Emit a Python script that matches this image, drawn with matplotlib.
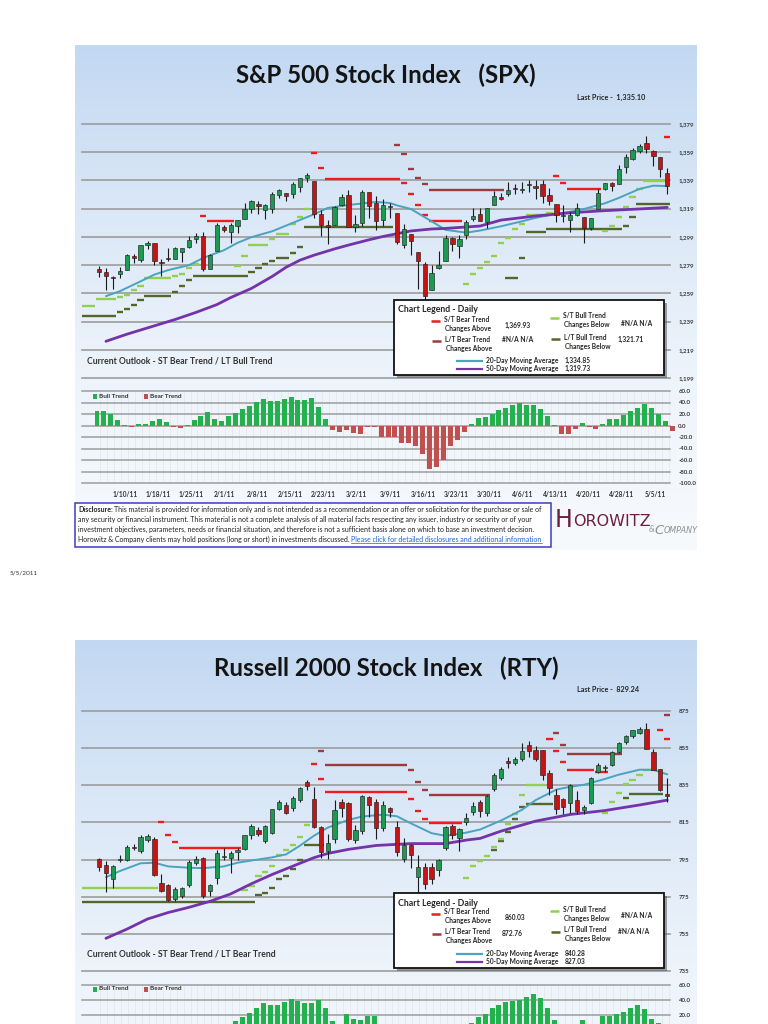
import numpy as np
import matplotlib
matplotlib.use("Agg")
import matplotlib.pyplot as plt
from matplotlib.patches import Rectangle
from matplotlib.colors import LinearSegmentedColormap
from matplotlib import font_manager

plt.rcParams['font.family'] = ['Lato', 'DejaVu Sans']

# ---------------- data: S&P 500 (Jan 6 - May 5, 2011) ----------------
spx_open = [1276.3, 1274.4, 1270.8, 1272.6, 1275.7, 1285.8, 1282.9, 1293.2, 1294.5, 1280.9,
            1283.6, 1283.3, 1288.2, 1291.9, 1297.5, 1299.6, 1276.5, 1289.1, 1305.9, 1302.8,
            1307.0, 1311.9, 1318.8, 1322.5, 1318.1, 1318.7, 1328.7, 1330.4, 1329.5, 1334.4,
            1340.4, 1338.9, 1315.4, 1307.1, 1307.3, 1321.6, 1328.6, 1305.9, 1308.5, 1330.7,
            1322.7, 1311.1, 1319.9, 1315.7, 1293.4, 1301.2, 1288.5, 1279.5, 1261.6, 1276.7,
            1281.7, 1298.3, 1292.2, 1300.6, 1311.8, 1315.5, 1309.4, 1321.9, 1327.4, 1329.5,
            1333.6, 1332.0, 1335.9, 1334.8, 1336.2, 1329.0, 1322.0, 1314.0, 1311.1, 1314.5,
            1313.4, 1305.6, 1319.1, 1333.2, 1337.1, 1336.8, 1348.4, 1353.9, 1360.1, 1365.2,
            1359.8, 1355.9, 1344.2]
spx_high = [1278.2, 1276.8, 1271.5, 1277.4, 1286.9, 1286.7, 1293.2, 1296.1, 1294.6, 1283.4,
            1291.2, 1291.9, 1291.3, 1299.7, 1301.6, 1302.7, 1287.2, 1308.9, 1307.6, 1308.6,
            1311.0, 1322.9, 1324.9, 1324.5, 1322.0, 1330.8, 1332.9, 1330.4, 1337.6, 1341.0,
            1344.1, 1338.9, 1317.9, 1310.9, 1320.6, 1329.4, 1332.1, 1314.4, 1332.3, 1331.1,
            1327.7, 1325.7, 1323.2, 1315.7, 1308.4, 1301.2, 1288.5, 1280.9, 1278.9, 1288.9,
            1300.6, 1299.0, 1300.5, 1311.3, 1319.2, 1319.7, 1319.5, 1331.7, 1329.8, 1337.9,
            1336.7, 1338.2, 1339.6, 1339.0, 1339.5, 1333.8, 1322.0, 1321.4, 1316.8, 1322.9,
            1313.4, 1312.7, 1332.7, 1337.5, 1337.6, 1349.6, 1357.5, 1361.7, 1364.6, 1370.6,
            1360.8, 1355.9, 1348.0]
spx_low = [1270.4, 1261.7, 1262.2, 1269.6, 1275.7, 1280.5, 1280.9, 1290.3, 1278.9, 1271.3,
           1282.1, 1283.1, 1281.1, 1291.0, 1294.4, 1275.1, 1276.5, 1289.1, 1302.6, 1294.8,
           1301.7, 1311.9, 1316.0, 1314.9, 1311.7, 1316.1, 1326.6, 1324.6, 1326.8, 1331.0,
           1338.1, 1312.3, 1299.6, 1294.3, 1307.3, 1320.6, 1306.1, 1302.6, 1306.5, 1312.6,
           1304.0, 1306.9, 1312.3, 1294.2, 1291.0, 1286.4, 1261.9, 1249.1, 1261.6, 1276.2,
           1281.7, 1289.2, 1284.1, 1297.7, 1310.2, 1310.2, 1305.3, 1321.9, 1325.0, 1328.1,
           1329.1, 1330.0, 1330.7, 1326.1, 1322.9, 1321.8, 1309.6, 1309.2, 1302.4, 1313.7,
           1294.7, 1304.0, 1319.1, 1332.3, 1331.7, 1336.8, 1344.3, 1353.6, 1358.7, 1358.6,
           1349.5, 1341.5, 1329.2]
spx_close = [1273.9, 1271.5, 1269.8, 1274.5, 1286.0, 1283.8, 1293.2, 1295.0, 1281.9, 1280.3,
             1283.4, 1290.8, 1291.2, 1296.6, 1299.5, 1276.3, 1286.1, 1307.6, 1304.0, 1307.1,
             1310.9, 1319.1, 1324.6, 1320.9, 1321.9, 1329.2, 1332.3, 1328.0, 1336.3, 1340.4,
             1343.0, 1315.4, 1307.4, 1306.1, 1319.9, 1327.2, 1306.3, 1308.4, 1331.0, 1321.2,
             1310.1, 1321.8, 1320.0, 1295.1, 1304.3, 1296.4, 1281.9, 1256.9, 1273.7, 1279.2,
             1298.4, 1293.8, 1297.5, 1309.7, 1313.8, 1310.2, 1319.4, 1328.3, 1325.8, 1332.4,
             1332.9, 1332.6, 1335.5, 1333.5, 1328.2, 1324.5, 1314.2, 1314.4, 1314.5, 1319.7,
             1305.1, 1312.6, 1330.4, 1337.4, 1335.3, 1347.2, 1355.7, 1360.5, 1363.6, 1361.2,
             1356.6, 1347.3, 1335.1]

spx_ma20_day = [1, 3, 6, 8, 10, 13, 15, 18, 20, 22, 25, 26, 28, 31, 33, 36, 38, 40, 42, 43,
                45, 48, 50, 53, 55, 58, 61, 63, 66, 68, 70, 73, 75, 78, 80, 82]
spx_ma20 = [1257.0, 1260.5, 1267.5, 1272.3, 1275.5, 1279.0, 1284.0, 1289.5, 1294.8, 1298.8,
            1303.0, 1305.0, 1309.0, 1315.0, 1319.5, 1321.6, 1322.7, 1323.8, 1323.0, 1321.3,
            1318.8, 1310.0, 1304.0, 1302.0, 1303.5, 1306.5, 1310.0, 1312.5, 1315.3, 1316.8,
            1318.8, 1322.8, 1326.6, 1333.0, 1335.3, 1335.0]
spx_ma50_day = [1, 4, 8, 11, 14, 17, 19, 22, 25, 27, 29, 31, 34, 36, 39, 41, 45, 48, 50, 55,
                58, 63, 68, 73, 78, 82]
spx_ma50 = [1225.0, 1230.0, 1236.0, 1240.5, 1245.5, 1251.0, 1256.0, 1262.5, 1271.0, 1277.5,
            1282.5, 1286.0, 1290.5, 1293.2, 1297.0, 1299.3, 1303.2, 1304.6, 1305.0, 1306.7,
            1310.9, 1313.8, 1316.1, 1317.6, 1318.8, 1319.9]

# trend markers: (first day, last day, level)
spx_st_bear = [(15, 15, 1314.0), (16, 19, 1310.0), (31, 31, 1358.3), (32, 32, 1348.0),
               (33, 43, 1340.0), (44, 44, 1337.5), (45, 45, 1329.2), (46, 46, 1321.6),
               (47, 47, 1314.6), (48, 52, 1310.1), (66, 66, 1341.8), (67, 67, 1337.2),
               (68, 72, 1332.8), (82, 82, 1369.9)]
spx_lt_bear = [(43, 43, 1364.2), (44, 44, 1357.6), (45, 45, 1347.3), (46, 46, 1341.0),
               (47, 47, 1336.4), (48, 58, 1332.4)]
spx_st_bull = [(-2, -1, 1250.0), (0, 2, 1255.1), (3, 3, 1256.5), (4, 4, 1257.9), (5, 5, 1261.3),
               (6, 6, 1264.5), (7, 10, 1270.0), (11, 11, 1271.2), (12, 12, 1272.8), (13, 13, 1277.0),
               (14, 14, 1280.0), (20, 20, 1278.7), (21, 21, 1285.3), (22, 24, 1293.6),
               (25, 25, 1297.2), (26, 27, 1301.4), (28, 28, 1308.0), (29, 29, 1313.0),
               (30, 30, 1318.5), (53, 53, 1265.3), (54, 54, 1272.4), (55, 55, 1276.6),
               (56, 56, 1281.0), (57, 57, 1285.4), (58, 58, 1294.4), (59, 59, 1298.0),
               (60, 60, 1304.3), (61, 61, 1308.0), (62, 64, 1314.8), (65, 65, 1316.0),
               (73, 73, 1303.0), (74, 74, 1307.0), (75, 75, 1313.0), (76, 76, 1320.0),
               (77, 77, 1327.0), (78, 78, 1333.0), (79, 82, 1338.3)]
spx_lt_bull = [(-2, 2, 1243.0), (3, 3, 1245.5), (4, 4, 1248.0), (5, 5, 1251.0), (6, 6, 1254.0),
               (7, 10, 1257.0), (11, 11, 1260.0), (12, 12, 1264.5), (13, 13, 1268.3),
               (14, 21, 1271.2), (22, 22, 1274.0), (23, 23, 1277.0), (24, 24, 1280.0),
               (25, 25, 1282.0), (26, 27, 1284.3), (28, 28, 1287.8), (29, 29, 1292.0),
               (30, 42, 1305.7), (59, 60, 1269.8), (61, 61, 1283.8), (62, 64, 1302.3),
               (65, 75, 1304.4), (76, 76, 1306.5), (77, 77, 1313.0), (78, 82, 1322.3)]

spx_hist = [24.8, 26, 20.8, 10.4, 0.5, -3, 2, 3, 7, 12, 6, -3, -5, 0.5, 10, 17, 23, 12, 8, 17,
            21, 28, 34, 41, 46, 43, 42, 46, 50, 45, 44, 47, 32, 12, -8, -11, -7, -13, -15, -3,
            -3, -20, -20, -20, -30, -30, -35, -50, -75, -73, -60, -35, -25, -12, 2, 13, 14, 20,
            27, 30, 35, 39, 35, 35, 28, 16, 1, -14, -14, -6, 5, -3, -6, 2, 11, 12, 18, 25,
            31, 37, 31, 20, 7, -9]

spx_legend_vals = ['1,369.93', '#N/A N/A', '#N/A N/A', '1,321.71', '1,334.85', '1,319.73']

# ---------------- data: Russell 2000 ----------------
rty_open = [795.4, 792.2, 784.3, 794.8, 795.0, 801.8, 799.6, 805.8, 806.2, 782.2,
            781.1, 774.0, 775.4, 781.1, 793.3, 795.6, 778.1, 785.2, 796.4, 796.0,
            799.0, 800.8, 808.0, 810.8, 805.0, 809.4, 822.0, 824.6, 822.8, 826.9,
            836.6, 827.6, 812.6, 799.5, 806.1, 825.8, 825.5, 805.8, 810.3, 828.7,
            825.8, 812.0, 822.8, 812.6, 795.4, 802.6, 785.7, 790.9, 790.9, 789.3,
            801.3, 813.3, 806.7, 815.0, 820.5, 826.0, 820.2, 832.8, 839.1, 848.0,
            846.8, 849.0, 856.5, 854.0, 854.0, 841.4, 830.0, 827.7, 825.6, 827.0,
            821.5, 825.6, 842.1, 844.3, 845.7, 852.9, 858.3, 861.5, 863.3, 865.5,
            852.9, 843.6, 830.5]
rty_high = [796.0, 794.2, 792.0, 797.5, 803.0, 803.3, 808.0, 809.0, 807.0, 787.0,
            782.0, 780.5, 780.5, 795.0, 797.0, 796.5, 782.0, 800.0, 801.4, 799.5,
            801.5, 808.5, 814.0, 812.5, 813.5, 822.5, 827.0, 826.0, 829.0, 834.0,
            838.0, 834.0, 813.0, 809.0, 827.0, 827.6, 826.0, 813.8, 830.0, 829.5,
            827.6, 826.5, 823.5, 815.7, 806.7, 803.5, 797.7, 793.3, 793.3, 795.5,
            813.0, 814.0, 812.0, 820.0, 826.0, 827.0, 830.0, 841.5, 845.0, 850.3,
            850.0, 858.0, 858.8, 856.0, 854.0, 843.2, 833.0, 828.0, 835.5, 831.8,
            824.5, 839.5, 847.0, 846.0, 853.5, 858.5, 862.0, 865.0, 866.5, 868.7,
            854.8, 844.0, 839.0]
rty_low = [788.8, 777.7, 779.9, 793.5, 794.0, 800.1, 798.5, 804.5, 786.0, 777.5,
           772.5, 772.8, 774.5, 780.5, 792.0, 774.5, 775.4, 782.0, 795.0, 788.0,
           795.0, 800.0, 806.0, 807.5, 804.0, 809.0, 821.5, 819.5, 821.0, 826.0,
           832.5, 812.0, 796.0, 795.5, 804.0, 818.0, 805.0, 803.7, 809.0, 818.0,
           806.0, 810.3, 818.0, 797.0, 793.7, 790.6, 775.3, 779.2, 782.0, 786.0,
           800.0, 806.0, 799.5, 813.6, 819.0, 818.0, 818.5, 832.0, 838.0, 844.4,
           846.0, 848.0, 850.4, 848.0, 838.1, 830.0, 819.5, 819.5, 820.0, 819.5,
           819.5, 825.0, 841.5, 842.0, 845.5, 852.5, 857.5, 860.5, 862.5, 854.7,
           843.0, 832.0, 826.0]
rty_close = [791.1, 787.9, 791.5, 795.2, 801.9, 801.2, 807.3, 807.6, 786.5, 778.1,
             773.2, 779.3, 779.9, 793.7, 795.4, 775.4, 781.1, 798.7, 796.6, 798.7,
             800.1, 808.0, 813.3, 809.0, 813.0, 822.0, 825.9, 820.1, 828.1, 833.5,
             834.8, 812.6, 799.0, 804.0, 821.9, 822.8, 806.1, 810.8, 829.0, 824.6,
             812.0, 824.6, 820.5, 799.0, 802.6, 797.7, 791.1, 782.1, 784.8, 794.7,
             812.6, 808.5, 811.5, 817.4, 823.7, 821.1, 829.5, 840.3, 843.9, 846.8,
             849.3, 853.4, 853.4, 849.3, 840.3, 833.7, 822.0, 823.4, 835.0, 821.0,
             823.5, 839.0, 845.7, 844.6, 852.9, 857.9, 861.5, 864.8, 865.5, 854.7,
             843.2, 832.4, 829.24]

rty_ma20_day = [1, 3, 6, 8, 10, 13, 15, 18, 20, 22, 25, 27, 29, 31, 33, 36, 38, 41, 43, 45,
                48, 50, 53, 55, 58, 61, 63, 66, 68, 70, 73, 75, 78, 80, 82]
rty_ma20 = [785.5, 788.8, 793.0, 793.3, 791.3, 790.6, 790.4, 791.3, 793.3, 794.5,
            796.2, 797.8, 802.5, 807.8, 812.2, 816.4, 818.2, 819.2, 818.3, 814.5,
            809.2, 807.8, 809.5, 811.2, 816.0, 821.7, 827.0, 832.7, 834.2, 835.3,
            838.4, 840.7, 843.4, 843.3, 840.9]
rty_ma50_day = [1, 4, 7, 10, 13, 16, 19, 22, 25, 27, 31, 33, 36, 40, 45, 50, 53, 55, 58, 63,
                68, 73, 78, 82]
rty_ma50 = [752.6, 757.5, 763.0, 766.5, 769.3, 772.5, 776.5, 782.0, 787.0, 790.0,
            796.0, 798.3, 800.5, 802.6, 803.6, 803.6, 805.5, 806.4, 810.3, 815.7,
            819.3, 821.4, 824.4, 827.0]

rty_st_bear = [(9, 9, 815.3), (10, 10, 808.5), (11, 11, 804.4), (12, 20, 801.0), (31, 31, 846.5),
               (32, 32, 838.3), (33, 44, 831.3), (45, 45, 827.5), (46, 46, 821.0), (47, 47, 816.7),
               (48, 52, 814.6), (65, 65, 859.8), (66, 66, 853.4), (67, 67, 847.3), (68, 71, 843.3),
               (72, 73, 842.2), (81, 81, 865.0), (82, 82, 860.0)]
rty_lt_bear = [(32, 32, 853.2), (33, 44, 846.0), (45, 45, 843.0), (46, 46, 837.0), (47, 47, 832.7),
               (48, 56, 829.9), (66, 66, 863.2), (67, 67, 856.8), (68, 75, 852.0), (82, 82, 872.8)]
rty_st_bull = [(-2, 8, 779.9), (21, 21, 778.6), (22, 22, 781.0), (23, 23, 786.0), (24, 24, 788.3),
               (25, 25, 791.5), (26, 26, 797.5), (27, 27, 800.4), (28, 28, 803.1), (29, 29, 807.0),
               (30, 30, 813.8), (53, 53, 785.0), (54, 54, 791.8), (55, 55, 794.0), (56, 56, 797.0),
               (57, 57, 801.6), (58, 58, 806.0), (59, 59, 813.9), (60, 60, 819.7), (61, 61, 829.7),
               (62, 64, 835.0), (73, 73, 820.0), (74, 74, 826.0), (75, 75, 831.0), (76, 76, 835.5),
               (77, 77, 838.0), (78, 78, 840.3), (79, 80, 843.5)]
rty_lt_bull = [(-2, 22, 772.0), (23, 23, 775.7), (24, 24, 777.2), (25, 25, 779.9), (26, 26, 784.5),
               (27, 27, 786.4), (28, 28, 790.0), (29, 29, 795.0), (30, 32, 803.1), (57, 57, 800.0),
               (58, 58, 805.0), (59, 59, 810.0), (60, 60, 817.1), (61, 61, 823.4), (62, 65, 825.0),
               (76, 76, 828.3), (77, 81, 830.4)]

rty_hist = [6, 4, 2, 3, 5, 6, 7, 6, -4, -10, -14, -12, -8, -2, 3, -5, -6, 2, 4, 6,
            11.6, 18, 23, 29, 36, 34, 34, 37, 41, 39, 36, 36, 40, 30, 12, 5, 21.5, 14.6, 13.8, 19,
            19, 5, 3, -8, -10, -14, -22, -30, -32, -25, -12, -6, -2, 4, 10, 17, 22, 29, 33, 37,
            39, 40, 44, 48, 43, 30, 14, 4, 2, -3, 14, 6, 7, 19, 19, 22, 24.5, 29, 33, 27.5,
            14.6, 9, -4, -12]

rty_legend_vals = ['860.03', '872.76', '#N/A N/A', '#N/A N/A', '840.28', '827.03']

date_labels = ['1/10/11', '1/18/11', '1/25/11', '2/1/11', '2/8/11', '2/15/11', '2/23/11', '3/2/11',
               '3/9/11', '3/16/11', '3/23/11', '3/30/11', '4/6/11', '4/13/11', '4/20/11',
               '4/28/11', '5/5/11']

# ---------------- styling ----------------
C_STBEAR = '#f01c1c'
C_LTBEAR = '#9c3b3b'
C_STBULL = '#92d050'
C_LTBULL = '#55662a'
C_MA20 = '#4aa3c0'
C_MA50 = '#7433a8'
C_UP = '#1c9a52'
C_DN = '#c41414'
C_HUP = '#22b14c'
C_HDN = '#c0504d'
GRID = '#9c9c9c'
TXT = '#262626'

W, H = 768, 1024
fig = plt.figure(figsize=(W / 100, H / 100), dpi=100)

names = {f.name for f in font_manager.fontManager.ttflist}
NARROW = 'Liberation Sans Narrow' if 'Liberation Sans Narrow' in names else 'DejaVu Sans'


def pxax(x0, y0, x1, y1, z=1):
    ax = fig.add_axes([x0 / W, 1 - y1 / H, (x1 - x0) / W, (y1 - y0) / H], zorder=z)
    ax.patch.set_alpha(0)
    return ax


bg = pxax(0, 0, W, H, z=0)
panel_cmap = LinearSegmentedColormap.from_list('panel', ['#c2d8f2', '#dbe8f7', '#eef4fb', '#f7fafd'])
for y0, y1 in [(45, 550), (640, 1145)]:
    bg.imshow(np.linspace(0, 1, 256).reshape(-1, 1), cmap=panel_cmap, aspect='auto',
              extent=(75, 697, y1, y0), zorder=0)
bg.set_xlim(0, W)
bg.set_ylim(H, 0)
bg.axis('off')

ov = pxax(0, 0, W, H, z=6)
ov.set_xlim(0, W)
ov.set_ylim(H, 0)
ov.axis('off')


def clean(ax):
    for s in ax.spines.values():
        s.set_visible(False)
    ax.set_xticks([])


def price_panel(top, bot, lo, hi, step, fmt, o, h, l, c, ma20_d, ma20, ma50_d, ma50, markers):
    ax = pxax(82, top, 670, bot, z=2)
    ax.set_xlim((82 - 99) / 6.93, (670 - 99) / 6.93)
    ax.set_ylim(lo, hi)
    clean(ax)
    ticks = np.arange(lo, hi + 1, step)
    for t in ticks:
        ax.axhline(t, color=GRID, lw=1.2, zorder=1, clip_on=False)
    ax.yaxis.tick_right()
    ax.set_yticks(ticks)
    ax.set_yticklabels([fmt.format(t) for t in ticks], fontsize=4.4, fontweight='bold', color='#3a3a3a')
    ax.tick_params(axis='y', length=0, pad=6)

    for segs, col in markers:
        for a, b, lev in segs:
            ax.hlines(lev, a - 0.45, b + 0.45, color=col, lw=1.7, zorder=3, clip_on=False)

    ax.plot(ma20_d, ma20, color=C_MA20, lw=1.4, zorder=4, solid_capstyle='round')
    ax.plot(ma50_d, ma50, color=C_MA50, lw=2.0, zorder=4, solid_capstyle='round')

    days = np.arange(len(o))
    o, h, l, c = map(np.asarray, (o, h, l, c))
    ax.vlines(days, l, h, color='#1a1a1a', lw=0.8, zorder=5)
    up = c >= o
    body = np.maximum(np.abs(c - o), (hi - lo) * 0.004)
    ax.bar(days, body, bottom=np.minimum(o, c), width=0.62,
           color=np.where(up, C_UP, C_DN), edgecolor='#222222', linewidth=0.45, zorder=6)
    return ax


def hist_panel(top, bot, vals, labels=True, min_label=-100):
    ax = pxax(82, top, 670, bot, z=2)
    ax.set_xlim((82 - 97) / 6.93, (670 - 97) / 6.93)
    ax.set_ylim(-100, 60)
    clean(ax)
    k = np.arange(len(vals))
    for x in k[:-1] + 0.5:
        ax.axvline(x, color='#e2e6eb', lw=0.5, zorder=0)
    ticks = np.arange(-100, 61, 20)
    for t in ticks:
        ax.axhline(t, color=GRID, lw=1.1, zorder=1, clip_on=False)
    shown = ticks[ticks >= min_label]
    ax.yaxis.tick_right()
    ax.set_yticks(shown)
    ax.set_yticklabels(['{:.1f}'.format(t) for t in shown], fontsize=4.4, fontweight='bold', color='#3a3a3a')
    ax.tick_params(axis='y', length=0, pad=6)
    vals = np.asarray(vals, dtype=float)
    ax.bar(k, vals, width=0.72, color=np.where(vals >= 0, C_HUP, C_HDN), zorder=3, clip_on=False)
    if labels:
        lb = pxax(82, 480, 670, 483, z=2)
        lb.set_xlim((82 - 125) / 33.125, (670 - 125) / 33.125)
        clean(lb)
        lb.set_yticks([])
        lb.set_xticks(range(len(date_labels)))
        lb.set_xticklabels(date_labels, fontsize=4.7, fontweight='bold', color='#333333')
        lb.tick_params(axis='x', length=0, pad=5.5)
    return ax


def legend_box(x0, y0, vals):
    ov.add_patch(Rectangle((x0 + 3, y0 + 3), 270, 75, facecolor='#555555', edgecolor='none', alpha=0.55, zorder=1))
    ov.add_patch(Rectangle((x0, y0), 270, 75, facecolor='white', edgecolor='#111111', lw=1.3, zorder=2))
    ov.text(x0 + 4, y0 + 10, 'Chart Legend - Daily', fontsize=6.3, fontweight='bold', color=TXT,
            va='center', zorder=3)
    items = [(37, 21, C_STBEAR, 'S/T Bear Trend', 'Changes Above', 111, 25),
             (38, 41, C_LTBEAR, 'L/T Bear Trend', 'Changes Above', 108, 40),
             (156, 18, C_STBULL, 'S/T Bull Trend', 'Changes Below', 227, 23),
             (157, 39, C_LTBULL, 'L/T Bull Trend', 'Changes Below', 224, 39)]
    fs = 4.75
    for (dx, dy, col, l1, l2, vx, vy), v in zip(items, vals[:4]):
        ov.plot([x0 + dx, x0 + dx + 9], [y0 + dy, y0 + dy], color=col, lw=1.8, zorder=3,
                solid_capstyle='butt')
        ov.text(x0 + dx + 13, y0 + dy - 2, l1, fontsize=fs, fontweight='bold', color=TXT, va='center', zorder=3)
        ov.text(x0 + dx + 14, y0 + dy + 7, l2, fontsize=fs, fontweight='bold', color=TXT, va='center', zorder=3)
        ov.text(x0 + vx, y0 + vy, v, fontsize=fs, fontweight='bold', color=TXT, va='center', zorder=3)
    for dy, col, name, v in [(61, C_MA20, '20-Day Moving Average', vals[4]),
                             (69, C_MA50, '50-Day Moving Average', vals[5])]:
        ov.plot([x0 + 63, x0 + 88], [y0 + dy, y0 + dy], color=col, lw=1.6, zorder=3)
        ov.text(x0 + 92, y0 + dy - 0.5, name, fontsize=fs, fontweight='bold', color=TXT, va='center', zorder=3)
        ov.text(x0 + 171, y0 + dy - 1, v, fontsize=fs, fontweight='bold', color=TXT, va='center', zorder=3)


def bull_bear_key(y):
    ov.add_patch(Rectangle((92.5, y - 2.5), 4, 5, facecolor=C_HUP, edgecolor='none', zorder=3))
    ov.text(99, y, 'Bull Trend', fontsize=4.6, fontweight='bold', color='#333333', va='center', zorder=3)
    ov.add_patch(Rectangle((143.5, y - 2.5), 4, 5, facecolor=C_HDN, edgecolor='none', zorder=3))
    ov.text(150, y, 'Bear Trend', fontsize=4.6, fontweight='bold', color='#333333', va='center', zorder=3)


# ---------------- S&P 500 panel ----------------
bg.text(386, 75, 'S&P 500 Stock Index   (SPX)', ha='center', va='center', fontsize=17.3,
        fontweight='bold', color='#141414')
bg.text(577, 97, 'Last Price -  1,335.10', fontsize=5.2, fontweight='bold', color=TXT, va='center')
price_panel(124, 378, 1199, 1379, 20, '{:,.0f}', spx_open, spx_high, spx_low, spx_close,
            spx_ma20_day, spx_ma20, spx_ma50_day, spx_ma50,
            [(spx_lt_bull, C_LTBULL), (spx_st_bull, C_STBULL), (spx_lt_bear, C_LTBEAR), (spx_st_bear, C_STBEAR)])
bg.text(87, 361, 'Current Outlook - ST Bear Trend / LT Bull Trend', fontsize=6.2, fontweight='bold',
        color='#333333', va='center')
legend_box(394, 300, spx_legend_vals)
hist_panel(391, 483, spx_hist)
bull_bear_key(396)

# disclosure box
bg.add_patch(Rectangle((75, 503), 476, 44, facecolor='white', edgecolor='#3c3cc0', lw=1.1, zorder=2))
disc = ['This material is provided for information only and is not intended as a recommendation or an offer or solicitation for the purchase or sale of',
        'any security or financial instrument. This material is not a complete analysis of all material facts respecting any issuer, industry or security or of your',
        'investment objectives, parameters, needs or financial situation, and therefore is not a sufficient basis alone on which to base an investment decision.',
        'Horowitz & Company clients may hold positions (long or short) in investments discussed. ']
DFS = 5.05
renderer = fig.canvas.get_renderer()
t0 = bg.text(78, 509.5, 'Disclosure:', fontsize=DFS, fontweight='bold', color='#202020', va='center', zorder=3)
bx = t0.get_window_extent(renderer).x1 + 1.5
bg.text(bx, 509.5, disc[0], fontsize=DFS, color='#202020', va='center', zorder=3)
for i, line in enumerate(disc[1:3]):
    bg.text(78, 519.5 + 10 * i, line, fontsize=DFS, color='#202020', va='center', zorder=3)
t3 = bg.text(78, 539.5, disc[3], fontsize=DFS, color='#202020', va='center', zorder=3)
lx = t3.get_window_extent(renderer).x1
tl = bg.text(lx, 539.5, 'Please click for detailed disclosures and additional information', fontsize=DFS,
             color='#1f5fd0', va='center', zorder=3)
ext = tl.get_window_extent(renderer)
bg.plot([ext.x0, ext.x1], [H - ext.y0 + 0.3, H - ext.y0 + 0.3], color='#1f5fd0', lw=0.5, zorder=3)

# logo
th = bg.text(555, 520, 'H', fontsize=17, color='#6e1f3c', va='center', family=NARROW, zorder=3)
hx = th.get_window_extent(renderer).x1
tw = bg.text(hx, 521, 'OROWITZ', fontsize=11.5, color='#6e1f3c', va='center', family=NARROW, zorder=3)
wx = tw.get_window_extent(renderer).x1
ta = bg.text(wx - 2, 530, '&', fontsize=6.5, color='#9a9a9a', va='center', style='italic', zorder=3)
ax_ = ta.get_window_extent(renderer).x1
tc = bg.text(ax_ + 0.5, 530, 'C', fontsize=9.5, color='#8f8f8f', va='center', style='italic', family=NARROW, zorder=3)
cx = tc.get_window_extent(renderer).x1
bg.text(cx, 530.5, 'OMPANY', fontsize=5.8, color='#8f8f8f', va='center', style='italic', family=NARROW, zorder=3)

bg.text(10, 573, '5/5/2011', fontsize=4.6, color='#333333', va='center')

# ---------------- Russell 2000 panel ----------------
bg.text(386, 668, 'Russell 2000 Stock Index   (RTY)', ha='center', va='center', fontsize=17.3,
        fontweight='bold', color='#141414')
bg.text(577, 689, 'Last Price -  829.24', fontsize=5.2, fontweight='bold', color=TXT, va='center')
price_panel(711, 971, 735, 875, 20, '{:.0f}', rty_open, rty_high, rty_low, rty_close,
            rty_ma20_day, rty_ma20, rty_ma50_day, rty_ma50,
            [(rty_lt_bull, C_LTBULL), (rty_st_bull, C_STBULL), (rty_lt_bear, C_LTBEAR), (rty_st_bear, C_STBEAR)])
bg.text(87, 954, 'Current Outlook - ST Bear Trend / LT Bear Trend', fontsize=6.2, fontweight='bold',
        color='#333333', va='center')
legend_box(394, 893, rty_legend_vals)
hist_panel(985, 1105, rty_hist, labels=False, min_label=20)
bull_bear_key(989)

fig.savefig('out.png', dpi=100)
